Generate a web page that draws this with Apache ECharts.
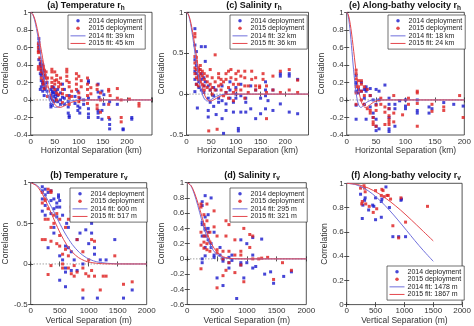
<!DOCTYPE html>
<html><head><meta charset="utf-8">
<script src="https://cdn.jsdelivr.net/npm/echarts@6/dist/echarts.min.js"></script>
<style>html,body{margin:0;padding:0;background:#fff}#c{width:474px;height:326px}</style>
</head><body><div id="c"></div>
<script>
// ---------- DATA ----------
const tempH2014 = [[17,0.70],[17,0.66],[17,0.62],[17,0.58],[17,0.46],[20,0.42],[20,0.40],[20,0.30],[20,0.12],[22,0.38],[22,0.34],[22,0.28],[22,0.22],[22,0.15],[25,0.40],[25,0.31],[25,0.20],[25,0.18],[25,0.10],[28,0.33],[28,0.25],[28,0.14],[28,0.05],[30,0.28],[30,0.18],[30,0.12],[34,0.20],[34,0.10],[42,0.12],[42,0.05],[42,0.02],[42,-0.05],[42,-0.08],[45,0.15],[45,0.10],[45,0.08],[45,0.00],[45,-0.06],[48,0.14],[48,0.08],[48,0.04],[48,-0.02],[52,0.10],[52,0.06],[52,0.02],[56,0.12],[56,-0.02],[56,0.05],[62,0.08],[62,0.00],[62,-0.05],[66,0.18],[66,0.03],[70,0.02],[70,-0.05],[70,0.12],[78,-0.02],[78,-0.08],[78,-0.15],[80,-0.18],[80,-0.20],[80,0.05],[92,0.04],[92,-0.04],[98,-0.07],[98,-0.12],[98,0.10],[102,0.02],[102,-0.09],[102,-0.15],[110,0.00],[110,-0.05],[120,0.22],[120,0.20],[120,0.02],[120,-0.10],[120,-0.16],[120,-0.20],[140,0.18],[140,0.09],[140,-0.12],[140,-0.15],[140,-0.20],[142,0.03],[148,0.10],[148,-0.12],[148,-0.22],[152,0.06],[152,-0.05],[164,-0.02],[164,-0.22],[164,-0.28],[164,-0.33],[180,-0.05],[192,-0.33],[192,-0.34],[210,-0.20],[210,-0.22]];
const tempH2015 = [[16,0.64],[16,0.60],[16,0.56],[16,0.54],[16,0.38],[16,0.35],[19,0.55],[19,0.48],[22,0.44],[22,0.40],[22,0.36],[22,0.32],[22,0.25],[26,0.38],[26,0.35],[26,0.30],[26,0.22],[26,0.18],[28,0.34],[28,0.28],[28,0.20],[28,0.13],[32,0.32],[32,0.25],[32,0.15],[35,0.25],[35,0.04],[44,0.35],[44,0.32],[44,0.25],[44,0.20],[44,0.15],[50,0.32],[50,0.22],[50,0.18],[50,0.12],[54,0.28],[54,0.23],[54,0.08],[54,0.00],[58,0.20],[58,0.15],[58,0.06],[62,0.25],[62,0.18],[66,0.12],[66,0.07],[66,-0.03],[75,0.35],[75,0.32],[75,0.27],[75,0.22],[75,0.05],[80,0.20],[80,0.15],[80,0.02],[80,-0.05],[85,0.10],[85,0.04],[95,0.30],[95,0.24],[95,0.18],[95,0.12],[100,0.27],[100,0.08],[100,0.03],[100,-0.02],[105,0.22],[105,0.15],[118,0.25],[118,0.18],[118,0.12],[118,0.05],[118,-0.04],[125,0.14],[125,0.07],[138,0.17],[138,0.12],[138,-0.06],[138,-0.10],[145,0.08],[145,-0.14],[145,0.00],[162,0.12],[162,0.10],[162,-0.05],[162,-0.20],[165,0.05],[180,0.13],[180,0.02],[188,0.00],[188,-0.20],[188,-0.25],[205,0.01],[225,-0.04],[225,-0.07]];
const salH2014 = [[17,0.80],[17,0.60],[17,0.42],[17,0.28],[17,0.18],[17,0.03],[20,0.52],[20,0.35],[20,0.25],[20,0.12],[22,-0.17],[25,0.30],[25,0.22],[25,0.15],[25,0.08],[30,0.58],[30,0.25],[30,0.18],[30,0.05],[35,0.20],[35,0.10],[35,0.02],[38,0.58],[38,0.40],[38,0.15],[44,0.10],[44,-0.05],[44,-0.20],[44,-0.28],[48,0.05],[48,-0.10],[55,0.08],[55,-0.02],[55,-0.15],[60,0.05],[60,-0.25],[65,-0.05],[65,-0.10],[72,0.10],[72,-0.08],[72,-0.30],[75,-0.48],[80,0.02],[80,-0.12],[80,-0.20],[88,0.15],[88,0.05],[88,-0.05],[95,-0.10],[95,-0.22],[100,0.08],[100,0.00],[100,-0.05],[105,-0.42],[105,-0.45],[110,0.12],[110,-0.02],[110,-0.22],[120,-0.05],[120,-0.10],[120,-0.22],[130,0.10],[130,-0.18],[140,0.05],[140,-0.30],[150,-0.05],[150,-0.24],[160,0.15],[160,0.05],[160,-0.02],[160,-0.18],[165,-0.08],[175,0.05],[175,-0.20],[190,0.25],[190,0.22],[190,-0.12],[208,0.25],[208,0.22],[208,-0.22],[225,0.18],[225,-0.24]];
const salH2015 = [[17,0.74],[17,0.70],[17,0.46],[17,0.38],[17,0.32],[17,0.25],[20,0.45],[20,0.40],[20,0.30],[20,0.20],[20,0.12],[24,0.32],[24,0.28],[24,0.22],[24,0.18],[24,0.10],[28,0.35],[28,0.30],[28,0.25],[28,0.15],[32,0.28],[32,0.22],[32,0.12],[36,0.25],[36,0.18],[36,0.10],[36,0.05],[42,0.22],[42,0.15],[42,0.08],[45,-0.45],[48,0.30],[48,0.12],[48,0.05],[52,0.20],[52,0.08],[52,0.00],[58,0.48],[58,0.15],[58,0.05],[62,-0.43],[65,0.25],[65,0.20],[65,0.10],[70,0.18],[70,0.12],[70,0.05],[75,0.15],[75,-0.02],[80,0.25],[80,0.18],[80,0.02],[85,0.28],[85,0.08],[85,-0.05],[90,0.30],[90,0.20],[95,0.12],[95,0.02],[95,-0.08],[100,0.25],[100,0.18],[100,0.05],[105,0.28],[105,0.12],[110,0.22],[110,0.05],[118,0.28],[118,0.20],[118,0.10],[118,-0.05],[125,0.10],[125,0.02],[132,0.28],[132,0.18],[140,0.20],[140,0.10],[140,0.05],[148,0.10],[148,0.08],[155,0.25],[155,0.18],[162,0.10],[162,0.02],[162,-0.30],[175,0.22],[175,0.05],[190,0.28],[190,0.02],[208,0.30],[208,0.05],[225,0.17],[225,0.02]];
const velH2014 = [[16,0.28],[16,0.20],[16,0.18],[16,0.10],[16,-0.22],[16,-0.06],[20,0.12],[20,0.08],[25,0.20],[25,0.10],[30,0.12],[30,0.02],[30,-0.05],[33,0.15],[33,0.12],[33,0.10],[33,-0.22],[40,0.13],[40,0.05],[40,-0.08],[45,-0.15],[45,-0.20],[45,0.00],[50,0.12],[50,-0.05],[50,-0.22],[50,-0.30],[50,-0.35],[55,-0.33],[55,0.00],[55,0.10],[65,0.17],[72,0.02],[72,-0.05],[72,-0.10],[72,-0.20],[72,-0.33],[72,-0.36],[82,-0.05],[82,-0.10],[82,-0.30],[90,-0.01],[100,0.00],[100,-0.10],[100,-0.07],[120,-0.12],[120,-0.15],[120,0.00],[140,-0.08],[140,-0.15],[145,-0.10],[165,-0.03],[182,-0.05],[198,-0.07]];
const velH2015 = [[16,0.34],[16,0.30],[16,0.24],[16,0.15],[16,0.08],[16,-0.05],[20,0.22],[20,0.15],[25,0.22],[25,0.18],[25,0.10],[25,0.00],[30,0.15],[30,0.05],[30,-0.05],[35,0.12],[35,-0.10],[40,0.05],[40,-0.12],[40,-0.15],[45,-0.20],[45,-0.25],[45,-0.28],[50,-0.12],[50,-0.30],[50,-0.06],[58,-0.05],[58,0.02],[65,-0.14],[65,-0.28],[65,-0.08],[72,-0.10],[72,-0.18],[72,-0.22],[72,-0.25],[72,-0.28],[80,0.05],[80,-0.15],[80,-0.25],[95,-0.17],[105,0.02],[105,-0.05],[120,0.10],[120,0.08],[120,-0.30],[120,-0.04],[145,-0.05],[145,-0.13],[165,-0.12],[165,-0.08],[192,0.05],[198,-0.20]];
const tempV2014 = [[200,0.95],[200,0.90],[200,0.80],[200,0.65],[250,0.92],[250,0.85],[250,0.72],[250,0.60],[300,0.88],[300,0.20],[350,0.90],[350,0.78],[350,0.62],[400,0.80],[400,0.68],[400,0.45],[400,0.38],[450,0.75],[450,0.70],[450,0.58],[480,0.85],[480,0.82],[500,0.78],[500,0.70],[500,0.10],[500,-0.20],[550,0.60],[550,0.05],[600,0.22],[600,-0.05],[600,-0.10],[600,-0.28],[620,0.50],[650,0.45],[650,0.20],[700,0.15],[700,-0.08],[750,0.60],[750,0.05],[800,0.30],[800,-0.08],[850,0.38],[900,-0.42],[900,0.00],[950,0.42],[1000,0.25],[1050,0.50],[1050,0.38],[1100,0.20],[1100,0.12],[1150,-0.42],[1200,0.05],[1300,0.05],[1450,0.30],[1600,-0.42],[1750,-0.32]];
const tempV2015 = [[200,0.88],[200,0.75],[200,0.30],[250,0.80],[250,0.78],[250,0.55],[250,0.30],[300,0.92],[300,0.68],[300,0.55],[300,-0.13],[350,0.90],[350,0.88],[350,0.45],[350,0.28],[350,-0.02],[400,0.60],[400,0.50],[450,0.62],[450,0.25],[500,0.55],[500,0.35],[500,0.22],[550,0.12],[550,0.00],[550,-0.05],[600,0.45],[600,0.18],[650,0.55],[650,0.10],[650,-0.05],[700,0.70],[700,0.65],[700,0.55],[700,-0.12],[750,-0.02],[750,-0.15],[800,0.30],[800,-0.10],[900,0.15],[900,-0.05],[900,-0.32],[950,-0.12],[1000,0.05],[1000,-0.15],[1050,0.30],[1050,-0.08],[1100,0.28],[1100,-0.15],[1200,-0.32],[1250,-0.15],[1300,-0.15],[1450,0.10],[1600,-0.25],[1750,-0.22]];
const salV2014 = [[250,0.75],[250,0.70],[250,0.48],[250,0.45],[250,0.30],[250,0.00],[250,-0.05],[300,0.83],[300,0.55],[300,0.40],[300,0.38],[300,0.30],[300,0.15],[300,0.04],[350,0.58],[350,0.40],[350,0.35],[350,0.25],[400,0.80],[400,0.20],[400,0.15],[450,0.35],[450,0.05],[450,0.02],[500,-0.25],[550,0.15],[550,0.05],[600,0.00],[600,-0.03],[600,-0.35],[700,-0.05],[700,-0.12],[700,0.02],[750,0.05],[750,-0.02],[830,-0.52],[900,-0.05],[900,-0.08],[900,0.25],[950,-0.25],[1000,0.20],[1000,-0.05],[1100,0.28],[1100,0.05],[1100,-0.12],[1150,-0.10],[1250,0.26],[1300,-0.20],[1400,-0.17],[1450,-0.32],[1620,-0.23],[1750,-0.17]];
const salV2015 = [[230,0.72],[230,0.68],[230,0.35],[230,0.18],[230,-0.13],[280,0.58],[280,0.45],[280,0.30],[280,0.22],[280,0.14],[330,0.72],[330,0.50],[330,0.30],[330,0.20],[330,0.12],[380,0.35],[380,0.22],[380,0.10],[450,0.63],[450,0.42],[500,0.30],[500,0.12],[500,0.08],[500,-0.38],[600,0.10],[600,0.00],[600,-0.22],[650,0.50],[650,0.30],[650,-0.15],[700,0.45],[700,0.10],[700,-0.05],[800,0.25],[800,0.05],[800,-0.18],[900,0.10],[900,0.05],[900,-0.08],[950,0.40],[950,-0.30],[1050,0.32],[1050,0.15],[1100,0.30],[1100,0.00],[1200,0.00],[1250,0.01],[1350,0.02],[1450,-0.27],[1600,-0.05],[1750,-0.15]];
const velV2014 = [[240,0.91],[270,0.71],[280,0.82],[310,0.86],[320,0.88],[380,0.78],[450,0.82],[470,0.81],[500,0.70],[500,0.88],[600,0.72],[600,0.85],[610,0.87],[680,0.97],[740,0.80],[800,0.56],[900,0.56],[940,0.86],[950,0.87],[1020,0.56]];
const velV2015 = [[240,0.96],[260,0.83],[270,0.85],[300,0.98],[310,0.96],[320,0.93],[330,0.83],[390,0.81],[460,0.76],[500,0.94],[520,0.79],[600,0.90],[610,0.95],[630,0.94],[650,0.89],[700,0.90],[720,0.90],[760,0.87],[800,0.65],[900,0.55],[940,0.88],[1020,0.68],[1400,0.81]];

const fitTempH2014 = [[0,1],[4,0.978],[8,0.914],[12,0.814],[16,0.689],[20,0.551],[23,0.41],[27,0.278],[31,0.163],[35,0.069],[39,0],[43,-0.047],[47,-0.073],[51,-0.084],[55,-0.083],[59,-0.074],[62,-0.062],[70,-0.037],[78,-0.018],[86,-0.008],[98,-0.001],[117,0],[252,0]];
const fitTempH2015 = [[0,1],[4.5,0.978],[9,0.914],[13.5,0.814],[18,0.689],[22.5,0.551],[27,0.41],[31.5,0.278],[36,0.163],[40.5,0.069],[45,0],[49.5,-0.047],[54,-0.073],[58.5,-0.084],[63,-0.083],[67.5,-0.074],[72,-0.062],[81,-0.037],[90,-0.018],[99,-0.008],[112,-0.001],[135,0],[252,0]];
const fitSalH2014 = [[0,1],[3.2,0.978],[6.4,0.914],[9.6,0.814],[12.8,0.689],[16,0.551],[19.2,0.41],[22.4,0.278],[25.6,0.163],[28.8,0.069],[32,0],[35.2,-0.047],[38.4,-0.073],[41.6,-0.084],[44.8,-0.083],[48,-0.074],[51.2,-0.062],[57.6,-0.037],[64,-0.018],[70.4,-0.008],[80,-0.001],[96,0],[247,0]];
const fitSalH2015 = [[0,1],[3.6,0.978],[7.2,0.914],[10.8,0.814],[14.4,0.689],[18,0.551],[21.6,0.41],[25.2,0.278],[28.8,0.163],[32.4,0.069],[36,0],[39.6,-0.047],[43.2,-0.073],[46.8,-0.084],[50.4,-0.083],[54,-0.074],[57.6,-0.062],[64.8,-0.037],[72,-0.018],[79.2,-0.008],[90,-0.001],[108,0],[247,0]];
const fitVelH2014 = [[0,1],[1.8,0.978],[3.6,0.914],[5.4,0.814],[7.2,0.689],[9,0.551],[10.8,0.41],[12.6,0.278],[14.4,0.163],[16.2,0.069],[18,0],[19.8,-0.047],[21.6,-0.073],[23.4,-0.084],[25.2,-0.083],[27,-0.074],[28.8,-0.062],[32.4,-0.037],[36,-0.018],[39.6,-0.008],[45,-0.001],[54,0],[200,0]];
const fitVelH2015 = [[0,1],[2.4,0.978],[4.8,0.914],[7.2,0.814],[9.6,0.689],[12,0.551],[14.4,0.41],[16.8,0.278],[19.2,0.163],[21.6,0.069],[24,0],[26.4,-0.047],[28.8,-0.073],[31.2,-0.084],[33.6,-0.083],[36,-0.074],[38.4,-0.062],[43.2,-0.037],[48,-0.018],[52.8,-0.008],[60,-0.001],[72,0],[200,0]];
const fitTempV2014 = [[0,1],[120,0.961],[240,0.852],[360,0.698],[480,0.527],[600,0.368],[720,0.237],[840,0.141],[960,0.077],[1080,0.039],[1200,0.018],[1440,0.003],[1800,0],[2000,0]];
const fitTempV2015 = [[0,1],[103,0.961],[207,0.852],[310,0.698],[414,0.527],[517,0.368],[620,0.237],[724,0.141],[827,0.077],[931,0.039],[1034,0.018],[1241,0.003],[1551,0],[2000,0]];
const fitSalV2014 = [[0,1],[59,0.961],[118,0.852],[177,0.698],[236,0.527],[295,0.368],[354,0.237],[413,0.141],[472,0.077],[531,0.039],[590,0.018],[708,0.003],[885,0],[2000,0]];
const fitSalV2015 = [[0,1],[64,0.961],[128,0.852],[193,0.698],[257,0.527],[321,0.368],[385,0.237],[449,0.141],[514,0.077],[578,0.039],[642,0.018],[770,0.003],[963,0],[2000,0]];
const fitVelV2014 = [[0,1],[148,0.990],[296,0.961],[443,0.914],[591,0.852],[739,0.779],[887,0.698],[1035,0.613],[1182,0.527],[1330,0.445],[1500,0.357]];
const fitVelV2015 = [[0,1],[187,0.990],[373,0.961],[560,0.914],[747,0.852],[934,0.779],[1120,0.698],[1307,0.613],[1500,0.525]];

const panelTitles = [['(a) Temperature r','h'],['(c) Salinity r','h'],['(e) Along-bathy velocity r','h'],['(b) Temperature r','v'],['(d) Salinity r','v'],['(f) Along-bathy velocity r','v']];
const fitNames = [['2014 fit: 39 km','2015 fit: 45 km'],['2014 fit: 32 km','2015 fit: 36 km'],['2014 fit: 18 km','2015 fit: 24 km'],['2014 fit: 600 m','2015 fit: 517 m'],['2014 fit: 295 m','2015 fit: 321 m'],['2014 fit: 1478 m','2015 fit: 1867 m']];
const xTitles = ['Horizontal Separation (km)','Horizontal Separation (km)','Horizontal Separation (km)','Vertical Separation (m)','Vertical Separation (m)','Vertical Separation (m)'];
const xRanges = [[0,252,50],[0,247,50],[0,200,50],[0,2000,500],[0,2000,500],[0,2000,500]];
const xLabelMax = [200,200,200,2000,2000,2000];
const yRanges = [[-0.4,1,0.2],[-0.5,1,0.5],[-0.4,1,0.2],[-0.5,1,0.5],[-0.6,1,0.2],[0,1,0.2]];
const scatter2014 = [tempH2014, salH2014, velH2014, tempV2014, salV2014, velV2014];
const scatter2015 = [tempH2015, salH2015, velH2015, tempV2015, salV2015, velV2015];
const fits2014 = [fitTempH2014, fitSalH2014, fitVelH2014, fitTempV2014, fitSalV2014, fitVelV2014];
const fits2015 = [fitTempH2015, fitSalH2015, fitVelH2015, fitTempV2015, fitSalV2015, fitVelV2015];

// ---------- LAYOUT ----------
const FONT = 'Liberation Sans';
const grids = [
  {left:27.5, top:12.3, width:124.5, height:122.7},
  {left:186.5, top:12.3, width:122, height:122.7},
  {left:346.7, top:12.3, width:119, height:122.7},
  {left:27.3, top:182.7, width:119.4, height:123},
  {left:187.3, top:182.7, width:119, height:123},
  {left:346.7, top:183.3, width:117.6, height:122.4}
];
const titlePos = [[86,5.5],[254,5.5],[405,5.5],[89,176],[252,176],[406,176]];
const legendPos = [[68,15],[230,15],[388,15],[70,188],[230,188],[387,266]];
const yNameGap = [18,19,19,18,19,16];
const BLUE = '#1818cc', RED = '#dd1c1c', FITB = '#7070dc', FITR = '#e4474d';
const TICK = {show:true, inside:true, length:2.5, lineStyle:{color:'#2a2a2a', width:0.8}};

const xAxes = [], yAxes = [];
grids.forEach((g,i) => {
  xAxes.push({
    type:'value', gridIndex:i, position:'bottom', min:xRanges[i][0], max:xRanges[i][1], interval:xRanges[i][2],
    axisLine:{show:false}, splitLine:{show:false}, axisTick:TICK,
    axisLabel:{fontSize:8, fontFamily:FONT, color:'#333', margin:2.5,
      formatter: v => (Math.abs(v % xRanges[i][2]) < 1e-9 && v <= xLabelMax[i] ? String(v) : '')},
    name:xTitles[i], nameLocation:'middle', nameGap:10,
    nameTextStyle:{fontSize:8.5, fontFamily:FONT, color:'#333'}
  });
  yAxes.push({
    type:'value', gridIndex:i, position:'left', min:yRanges[i][0], max:yRanges[i][1], interval:yRanges[i][2],
    axisLine:{show:false}, splitLine:{show:false}, axisTick:TICK,
    axisLabel:{fontSize:8, fontFamily:FONT, color:'#333', margin:3,
      formatter: v => String(Math.round(v*10)/10)},
    name:'Correlation', nameLocation:'middle', nameGap:yNameGap[i],
    nameTextStyle:{fontSize:8.5, fontFamily:FONT, color:'#333'}
  });
});
// mirrored tick marks on top / right edges
grids.forEach((g,i) => {
  xAxes.push({type:'value', gridIndex:i, position:'top', min:xRanges[i][0], max:xRanges[i][1], interval:xRanges[i][2],
    axisLine:{show:false}, splitLine:{show:false}, axisTick:TICK, axisLabel:{show:false}});
  yAxes.push({type:'value', gridIndex:i, position:'right', min:yRanges[i][0], max:yRanges[i][1], interval:yRanges[i][2],
    axisLine:{show:false}, splitLine:{show:false}, axisTick:TICK, axisLabel:{show:false}});
});

const option = {
  animation:false,
  backgroundColor:'#fff',
  grid: grids.map(g => Object.assign({show:true, borderColor:'#2a2a2a', borderWidth:0.8, containLabel:false}, g)),
  xAxis: xAxes,
  yAxis: yAxes,
  legend: grids.map((g,i) => ({
    orient:'vertical', left:legendPos[i][0], top:legendPos[i][1],
    selectedMode:false, itemWidth:15, itemHeight:3.5, itemGap:0.3,
    padding:[2,3,2,2], borderColor:'#333', borderWidth:0.7, backgroundColor:'#fff',
    textStyle:{fontSize:7, fontFamily:FONT, color:'#222', lineHeight:7.3, padding:[0,0,0,-2]},
    data:[{name:'2014 deployment', icon:'circle'},{name:'2015 deployment', icon:'circle'},
          {name:fitNames[i][0], itemStyle:{opacity:0}, lineStyle:{width:1, color:FITB}},
          {name:fitNames[i][1], itemStyle:{opacity:0}, lineStyle:{width:1, color:FITR}}]
  })),
  graphic: panelTitles.map((t,i) => ({
    type:'text', x:titlePos[i][0], y:titlePos[i][1], z:100,
    style:{text:'{m|'+t[0]+'}{s|'+t[1]+'}', align:'center', verticalAlign:'middle',
      rich:{m:{fontSize:9, fontWeight:'bold', fontFamily:FONT, fill:'#111', lineHeight:12},
            s:{fontSize:6.5, fontWeight:'bold', fontFamily:FONT, fill:'#111', verticalAlign:'bottom'}}}
  })),
  series: []
};

grids.forEach((g,i) => {
  if (yRanges[i][0] < 0) {
    option.series.push({type:'line', xAxisIndex:i, yAxisIndex:i, silent:true, symbol:'none',
      data:[[xRanges[i][0],0],[xRanges[i][1],0]], lineStyle:{type:[1,2], color:'#555', width:0.8}, z:1});
  }
  option.series.push({type:'scatter', name:'2014 deployment', xAxisIndex:i, yAxisIndex:i,
    data:scatter2014[i], symbol:'rect', symbolSize:3, itemStyle:{color:BLUE}, z:2});
  option.series.push({type:'scatter', name:'2015 deployment', xAxisIndex:i, yAxisIndex:i,
    data:scatter2015[i], symbol:'rect', symbolSize:3, itemStyle:{color:RED}, z:3});
  option.series.push({type:'line', name:fitNames[i][0], xAxisIndex:i, yAxisIndex:i, symbol:'none',
    smooth:0.3, data:fits2014[i], lineStyle:{color:FITB, width:1}, itemStyle:{color:FITB}, z:4});
  option.series.push({type:'line', name:fitNames[i][1], xAxisIndex:i, yAxisIndex:i, symbol:'none',
    smooth:0.3, data:fits2015[i], lineStyle:{color:FITR, width:1}, itemStyle:{color:FITR}, z:5});
});

const chart = echarts.init(document.getElementById('c'), null, {renderer:'canvas'});
chart.setOption(option);
</script></body></html>
